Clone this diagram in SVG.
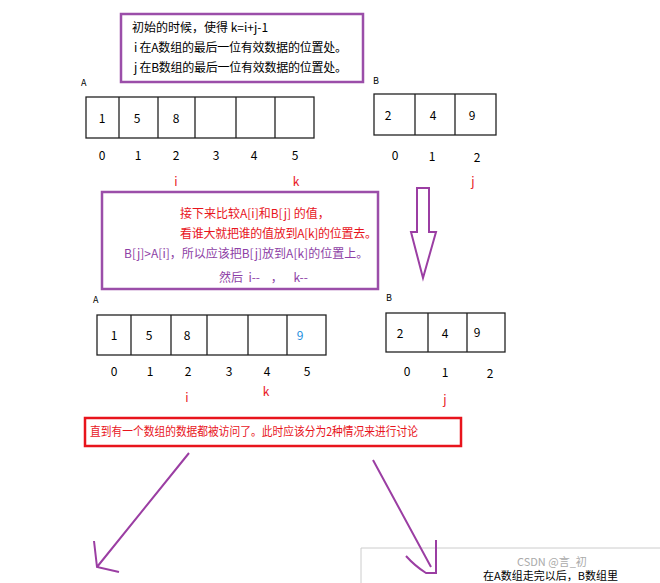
<svg xmlns="http://www.w3.org/2000/svg" width="660" height="583" viewBox="0 0 660 583">
<style>
text{font-family:"Microsoft YaHei","Noto Sans CJK SC",sans-serif;font-size:12px;fill:#000}
.c{text-anchor:middle}
.r{fill:#e8141c}
.p{fill:#8e3fa6}
.cell{fill:#fff;stroke:#222;stroke-width:1.3}
.pb{fill:#fff;stroke:#9b4ea9;stroke-width:2.5}
.pl{fill:none;stroke:#9b3ea3;stroke-width:2}
.lbl{font-size:9px}
</style>
<rect width="660" height="583" fill="#fff"/>
<g id="note1">
<rect class="pb" x="121" y="14" width="242" height="68"/>
<text x="132" y="32">初始的时候，使得 k=i+j-1</text>
<text x="134" y="52" textLength="213">i 在A数组的最后一位有效数据的位置处。</text>
<text x="134" y="72" textLength="213">j 在B数组的最后一位有效数据的位置处。</text>
</g>
<g id="arrayA1">
<text class="lbl" x="81" y="86">A</text>
<rect class="cell" x="86" y="97" width="228" height="41"/>
<path d="M119 97V138M158 97V138M195 97V138M236 97V138M275 97V138" stroke="#222" stroke-width="1.3"/>
<text class="c" x="102" y="123">1</text><text class="c" x="137" y="123">5</text><text class="c" x="176" y="123">8</text>
<text class="c" x="102" y="160">0</text><text class="c" x="138" y="160">1</text><text class="c" x="176" y="160">2</text><text class="c" x="216" y="160">3</text><text class="c" x="254" y="160">4</text><text class="c" x="295" y="160">5</text>
<text class="c r" x="176" y="186">i</text><text class="c r" x="296" y="186">k</text>
</g>
<g id="arrayB1">
<text class="lbl" x="373" y="84">B</text>
<rect class="cell" x="374" y="94" width="122" height="41"/>
<path d="M415 94V135M455 94V135" stroke="#222" stroke-width="1.3"/>
<text class="c" x="388" y="120">2</text><text class="c" x="433" y="120">4</text><text class="c" x="472" y="120">9</text>
<text class="c" x="395" y="160">0</text><text class="c" x="432" y="161">1</text><text class="c" x="477" y="162">2</text>
<text class="c r" x="473" y="186">j</text>
</g>
<g id="note2">
<rect class="pb" x="102" y="192" width="276" height="97"/>
<text class="r" x="180" y="218">接下来比较A[i]和B[j] 的值，</text>
<text class="r" x="180" y="238" textLength="197">看谁大就把谁的值放到A[k]的位置去。</text>
<text class="p" x="124" y="258">B[j]&gt;A[i]，所以应该把B[j]放到A[k]的位置上。</text>
<text class="p" x="219" y="282" xml:space="preserve">然后  i--    ，    k--</text>
</g>
<g id="arrayA2">
<text class="lbl" x="93" y="303">A</text>
<rect class="cell" x="97" y="315" width="229" height="40"/>
<path d="M131 315V355M171 315V355M207 315V355M248 315V355M287 315V355" stroke="#222" stroke-width="1.3"/>
<text class="c" x="114" y="340">1</text><text class="c" x="149" y="340">5</text><text class="c" x="187" y="340">8</text><text class="c" x="300" y="340" style="fill:#1e8fe0">9</text>
<text class="c" x="114" y="376">0</text><text class="c" x="150" y="376">1</text><text class="c" x="188" y="376">2</text><text class="c" x="229" y="376">3</text><text class="c" x="267" y="376">4</text><text class="c" x="307" y="376">5</text>
<text class="c r" x="187" y="402">i</text><text class="c r" x="266" y="396">k</text>
</g>
<g id="arrayB2">
<text class="lbl" x="386" y="301">B</text>
<rect class="cell" x="386" y="313" width="119" height="39"/>
<path d="M428 313V352M467 313V352" stroke="#222" stroke-width="1.3"/>
<text class="c" x="400" y="338">2</text><text class="c" x="445" y="338">4</text><text class="c" x="477" y="337">9</text>
<text class="c" x="407" y="376">0</text><text class="c" x="445" y="377">1</text><text class="c" x="490" y="378">2</text>
<text class="c r" x="445" y="404">j</text>
</g>
<g id="note3">
<rect x="85" y="418" width="376" height="28" fill="#fff" stroke="#e8141c" stroke-width="2.5"/>
<text class="r" x="90" y="436" textLength="328" lengthAdjust="spacingAndGlyphs">直到有一个数组的数据都被访问了。此时应该分为2种情况来进行讨论</text>
</g>
<g id="connectors">
<path class="pl" d="M417 188H429V232H436L423 278L411 232H417Z"/>
<path class="pl" d="M189 453L97 567M94 541L97 567L119 572"/>
<path d="M361 583V548H660" fill="none" stroke="#ccc"/>
<path class="pl" d="M373 460L431 567M436 540V573H426Q415 566 406 556"/>
</g>
<text x="517" y="566" style="fill:#aaa;font-size:11px">CSDN @言_初</text>
<text x="483" y="580" style="font-size:11px">在A数组走完以后，B数组里</text>
</svg>
